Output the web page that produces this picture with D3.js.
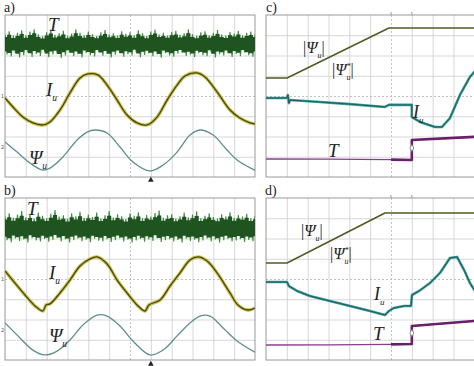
<!DOCTYPE html>
<html>
<head>
<meta charset="utf-8">
<script src="https://cdn.jsdelivr.net/npm/d3@7"></script>
<style>
  body { margin: 0; background: #fff; }
  svg { display: block; }
  text { opacity: 0.99; }
</style>
</head>
<body>
<div id="chart"></div>
<script>
// all traces in scope divisions: t = 0..12 across, v = -4..4 (0 = centre line)

// panel a) -- steady state, sine current
const aIu = [[0,-0.10],[0.38,-0.54],[0.86,-1.04],[1.34,-1.33],[1.82,-1.43],[2.16,-1.28],[2.64,-0.69],[3.12,0.15],[3.60,0.89],[3.98,1.09],[4.46,1.04],[4.90,0.54],[5.38,-0.20],[5.86,-0.94],[6.34,-1.33],[6.82,-1.43],[7.30,-1.04],[7.78,-0.20],[8.26,0.54],[8.64,0.99],[9.22,1.14],[9.60,0.94],[10.18,0.20],[10.80,-0.69],[11.28,-1.09],[11.76,-1.33],[12,-1.38]];
const aPsi = [[0,-2.27],[0.58,-2.77],[1.20,-3.31],[1.78,-3.65],[2.16,-3.56],[2.78,-3.01],[3.46,-2.17],[3.94,-1.78],[4.32,-1.68],[4.90,-1.83],[5.52,-2.52],[6.14,-3.26],[6.96,-3.70],[7.59,-3.41],[8.26,-2.77],[8.88,-1.93],[9.36,-1.68],[9.99,-1.93],[10.66,-2.67],[11.14,-3.16],[12,-3.67]];
const aThi = [3.05,3.2,2.98,3.12,3.25,3.0,3.18,3.3,3.05,2.95,3.15,3.28,3.02,3.1,3.22,2.97,3.08,3.3,3.12,3.0,3.18,3.05,2.96,3.14,3.26,3.03,3.1,2.98,3.2,3.07,3.15,3.0,3.24,3.1,2.96,3.18,3.28,3.04,3.12,2.99,3.16,3.22,3.02,3.1,3.3,3.05,2.97,3.14,3.2,3.0,3.12,3.26,3.04,2.98,3.16,3.08,3.22,3.0,3.12,3.18,3.05];
const aTlo = [2.05,1.95,2.12,1.9,2.02,2.15,1.93,2.08,1.98,2.18,1.92,2.05,2.1,1.88,2.0,2.14,1.96,2.06,1.9,2.12,2.02,1.95,2.16,1.99,2.08,1.9,2.04,2.13,1.94,2.07,2.0,2.17,1.91,2.03,2.1,1.96,2.06,1.89,2.12,2.0,1.94,2.09,2.15,1.98,2.04,1.92,2.11,2.02,1.96,2.14,1.9,2.06,2.0,2.12,1.93,2.08,1.97,2.15,2.01,1.94,2.06];

// panel b) -- steady state, notched current
const bIu = [[0,0.40],[0.48,-0.20],[0.96,-0.79],[1.44,-1.33],[1.82,-1.58],[1.97,-1.28],[2.16,-1.23],[2.64,-0.69],[3.12,-0.05],[3.60,0.64],[4.08,0.99],[4.42,1.09],[4.90,0.74],[5.38,-0.05],[5.86,-0.69],[6.34,-1.28],[6.72,-1.58],[6.91,-1.28],[7.44,-1.04],[7.92,-0.35],[8.40,0.30],[8.88,0.94],[9.27,1.09],[9.70,0.89],[10.18,0.30],[10.80,-0.69],[11.18,-1.28],[11.66,-1.53],[12,-1.43]];
const bPsi = [[0,-2.17],[0.72,-2.91],[1.34,-3.51],[1.92,-3.75],[2.50,-3.56],[3.12,-3.01],[3.74,-2.27],[4.42,-1.78],[4.90,-1.83],[5.52,-2.32],[6.14,-3.06],[6.96,-3.75],[7.59,-3.51],[8.26,-2.81],[8.88,-2.17],[9.36,-1.83],[9.84,-1.83],[10.47,-2.42],[11.14,-3.06],[12,-3.62]];
const bThi = [3.1,3.25,3.02,3.18,3.35,3.05,3.2,2.98,3.28,3.12,3.0,3.22,3.4,3.08,3.15,2.97,3.25,3.1,3.32,3.02,3.18,3.06,3.28,2.99,3.14,3.36,3.04,3.2,3.1,2.96,3.24,3.12,3.3,3.0,3.16,3.08,3.26,3.38,3.02,3.14,3.2,2.98,3.1,3.28,3.05,3.18,3.34,3.0,3.12,3.24,3.06,2.98,3.2,3.1,3.3,3.02,3.16,3.08,3.22,3.0,3.12];
const bTlo = [1.92,1.82,2.0,1.88,1.95,1.8,2.02,1.9,1.85,1.98,1.84,1.93,2.03,1.86,1.96,1.8,1.91,2.0,1.87,1.94,1.82,1.99,1.89,1.85,1.97,1.83,1.92,2.01,1.86,1.94,1.8,1.9,1.98,1.84,1.95,1.88,2.02,1.83,1.91,1.96,1.85,1.93,1.8,1.99,1.88,1.94,1.82,1.9,2.0,1.86,1.95,1.81,1.92,1.98,1.85,1.9,1.96,1.83,1.93,1.87,1.95];

// panel c) -- flux ramp, step in torque
const cPsi = [[0,0.89],[1.01,0.89],[5.9,3.36],[12,3.36]];
const cIu = [[0,-0.10],[1.0,-0.10],[1.05,0.05],[1.1,-0.35],[1.15,-0.2],[2.59,-0.30],[4.03,-0.40],[5.71,-0.54],[5.9,-0.44],[7.0,-0.44],[7.0,-1.04],[7.39,-1.28],[8.11,-1.53],[8.45,-1.53],[8.83,-1.09],[9.31,0.05],[9.79,0.94],[10.0,1.19],[10.5,1.6]];
const cT = [[0,-3.11],[3,-3.12],[6,-3.14],[7.0,-3.16],[7.0,-2.17],[10,-2.02],[12,-1.95]];

// panel d)
const dPsi = [[0,0.79],[1.01,0.79],[5.71,3.26],[12,3.26]];
const dIu = [[0,-0.15],[1.01,-0.15],[1.10,-0.35],[1.49,-0.59],[2.11,-0.84],[3.07,-1.09],[4.03,-1.33],[4.99,-1.58],[5.71,-1.78],[5.90,-1.58],[6.14,-1.43],[6.63,-1.33],[6.96,-1.33],[7.01,-0.79],[7.35,-0.59],[7.87,-0.20],[8.35,0.30],[8.83,1.04],[9.17,1.09],[9.51,0.44],[9.79,-0.20],[10.0,-0.54],[10.4,-1.0]];
const dT = [[0,-3.26],[3,-3.25],[6,-3.23],[7.0,-3.21],[7.0,-2.32],[10,-2.07],[12,-1.95]];

const trigT = 7.0;           // trigger marker position
const cStepMark = -2.57, dStepMark = -2.67;

const W = 474, H = 366, PW = 250, PH = 162;
const svg = d3.select("#chart").append("svg").attr("width", W).attr("height", H);
const serif = "'Liberation Serif','DejaVu Serif',serif";

function makePanel(id, x0, y0) {
    const g = svg.append("g").attr("transform", "translate(" + x0 + "," + y0 + ")");
    const x = d3.scaleLinear().domain([0, 12]).range([0, PW]);
    const y = d3.scaleLinear().domain([-4, 4]).range([PH, 0]);

    // graticule through the axis generators
    const gx = g.append("g").call(d3.axisBottom(x).tickValues(d3.range(1, 12)).tickSize(PH).tickFormat(""));
    const gy = g.append("g").call(d3.axisRight(y).tickValues(d3.range(-3, 4)).tickSize(PW).tickFormat(""));
    [gx, gy].forEach(a => {
        a.select(".domain").remove();
        a.selectAll(".tick line").attr("stroke", "#d2d2d2").attr("stroke-width", 0.9);
    });
    gx.selectAll(".tick line").filter(d => d === 6).attr("stroke", "#bbb").attr("stroke-dasharray", "2,2");
    gy.selectAll(".tick line").filter(d => d === 0).attr("stroke", "#bbb").attr("stroke-dasharray", "2,2");

    g.append("rect").attr("width", PW).attr("height", PH)
        .attr("fill", "none").attr("stroke", "#9a9a9a").attr("stroke-width", 1);

    g.append("clipPath").attr("id", "clip-" + id)
        .append("rect").attr("width", PW).attr("height", PH);
    const plot = g.append("g").attr("clip-path", "url(#clip-" + id + ")");
    return { g, plot, x, y };
}

// noisy torque trace: zig-zag between the read envelope values, dark core on top
function noiseBand(p, hi, lo) {
    const step = 12 / (hi.length - 1);
    const rows = hi.map((h, i) => ({ t: i * step, hi: h, lo: lo[i] }));
    const mid = d3.mean(rows, d => (d.hi + d.lo) / 2);
    const zig = rows.flatMap(d => [[d.t, d.hi], [d.t + step / 2, d.lo]]);
    p.plot.append("path").datum(zig)
        .attr("fill", "none").attr("stroke", "#3d8c3d").attr("stroke-width", 1.1)
        .attr("d", d3.line().x(d => p.x(d[0])).y(d => p.y(d[1])));
    p.plot.append("path").datum(rows)
        .attr("fill", "#1f531f")
        .attr("d", d3.area().x(d => p.x(d.t)).curve(d3.curveStep)
            .y0(d => p.y(mid - (mid - d.lo) * 0.72)).y1(d => p.y(mid + (d.hi - mid) * 0.72)));
}

function trace(p, data, color, width, curve) {
    return p.plot.append("path").datum(data)
        .attr("fill", "none").attr("stroke", color).attr("stroke-width", width)
        .attr("stroke-linejoin", "round")
        .attr("d", d3.line().x(d => p.x(d[0])).y(d => p.y(d[1])).curve(curve || d3.curveLinear));
}

function label(x, y, main, sub, size) {
    const t = svg.append("text").attr("x", x).attr("y", y)
        .attr("font-family", serif).attr("font-style", "italic").attr("font-size", size)
        .attr("fill", "#222").text(main);
    if (sub) t.append("tspan").attr("font-size", size * 0.5).attr("dy", size * 0.28).text(sub);
}

function absLabel(x, y, star) {
    const t = svg.append("text").attr("x", x).attr("y", y)
        .attr("font-family", serif).attr("font-style", "italic").attr("font-size", 16).attr("fill", "#222");
    t.append("tspan").attr("font-style", "normal").text("|");
    t.append("tspan").text("\u03A8");
    if (star) {
        t.append("tspan").attr("font-size", 8).attr("dy", -6).text("*");
        t.append("tspan").attr("font-size", 8).attr("dx", -4).attr("dy", 11).text("u");
        t.append("tspan").attr("font-style", "normal").attr("dy", -5).text("|");
    } else {
        t.append("tspan").attr("font-size", 8).attr("dy", 5).text("u");
        t.append("tspan").attr("font-style", "normal").attr("dy", -5).text("|");
    }
}

function panelTag(x, y, s) {
    svg.append("text").attr("x", x).attr("y", y).attr("font-family", serif)
        .attr("font-size", 14).attr("fill", "#222").text(s);
}

function chanMark(p, v, s) {
    p.g.append("text").attr("x", -4).attr("y", p.y(v) + 2).attr("font-family", "DejaVu Sans")
        .attr("font-size", 5).attr("fill", "#555").text(s);
}

// ---- a) ----
const pa = makePanel("a", 5, 15);
noiseBand(pa, aThi, aTlo);
trace(pa, aIu, "#c9c24a", 3.4, d3.curveCatmullRom);
trace(pa, aIu, "#4a4618", 1.3, d3.curveCatmullRom);
trace(pa, aPsi, "#5f8f8c", 1.3, d3.curveCatmullRom);
chanMark(pa, 0, "1"); chanMark(pa, -2.5, "2");
pa.g.append("path").attr("d", d3.symbol(d3.symbolTriangle, 14)())
    .attr("transform", "translate(" + pa.x(trigT) + "," + (PH + 3) + ")").attr("fill", "#222");

// ---- b) ----
const pb = makePanel("b", 5, 198);
noiseBand(pb, bThi, bTlo);
trace(pb, bIu, "#c9c24a", 3.4, d3.curveCatmullRom);
trace(pb, bIu, "#4a4618", 1.3, d3.curveCatmullRom);
trace(pb, bPsi, "#5f8f8c", 1.3, d3.curveCatmullRom);
chanMark(pb, 0, "1"); chanMark(pb, -2.5, "2");
pb.g.append("path").attr("d", d3.symbol(d3.symbolTriangle, 14)())
    .attr("transform", "translate(" + pb.x(trigT) + "," + (PH + 4) + ")").attr("fill", "#222");

// ---- c) and d) ----
function stepPanel(p, psi, iu, tq, mark) {
    trace(p, psi, "#4d5c22", 1.5);
    trace(p, iu, "#3a9a98", 2.6);
    trace(p, iu, "#1d5c5c", 1.0);
    trace(p, tq, "#8a3d8a", 1.3);
    trace(p, tq.filter(d => d[0] >= 5), "#6b1f6b", 2.6);
    p.plot.append("path").attr("d", d3.symbol(d3.symbolDiamond, 14)())
        .attr("transform", "translate(" + p.x(trigT) + "," + p.y(mark) + ")")
        .attr("fill", "#fff").attr("stroke", "#777").attr("stroke-width", 0.8);
    [6, trigT].forEach(t => p.g.append("line").attr("x1", p.x(t)).attr("x2", p.x(t))
        .attr("y1", -3).attr("y2", 0).attr("stroke", "#999"));
}
const pc = makePanel("c", 266, 15);
stepPanel(pc, cPsi, cIu, cT, cStepMark);
const pd = makePanel("d", 266, 198);
stepPanel(pd, dPsi, dIu, dT, dStepMark);

// ---- labels ----
panelTag(4, 12, "a)");
panelTag(4, 195, "b)");
panelTag(266, 12, "c)");
panelTag(265, 195, "d)");

label(48, 31, "T", null, 19);
label(46, 96, "I", "u", 19);
label(29, 164, "\u03A8", "u", 19);

label(27, 215, "T", null, 19);
label(49, 279, "I", "u", 19);
label(49, 342, "\u03A8", "u", 19);

absLabel(303, 53, false);
absLabel(332, 75, true);
label(413, 118, "I", "u", 18);
label(328, 157, "T", null, 19);

absLabel(301, 236, false);
absLabel(330, 259, true);
label(374, 300, "I", "u", 18);
label(373, 340, "T", null, 19);
</script>
</body>
</html>
